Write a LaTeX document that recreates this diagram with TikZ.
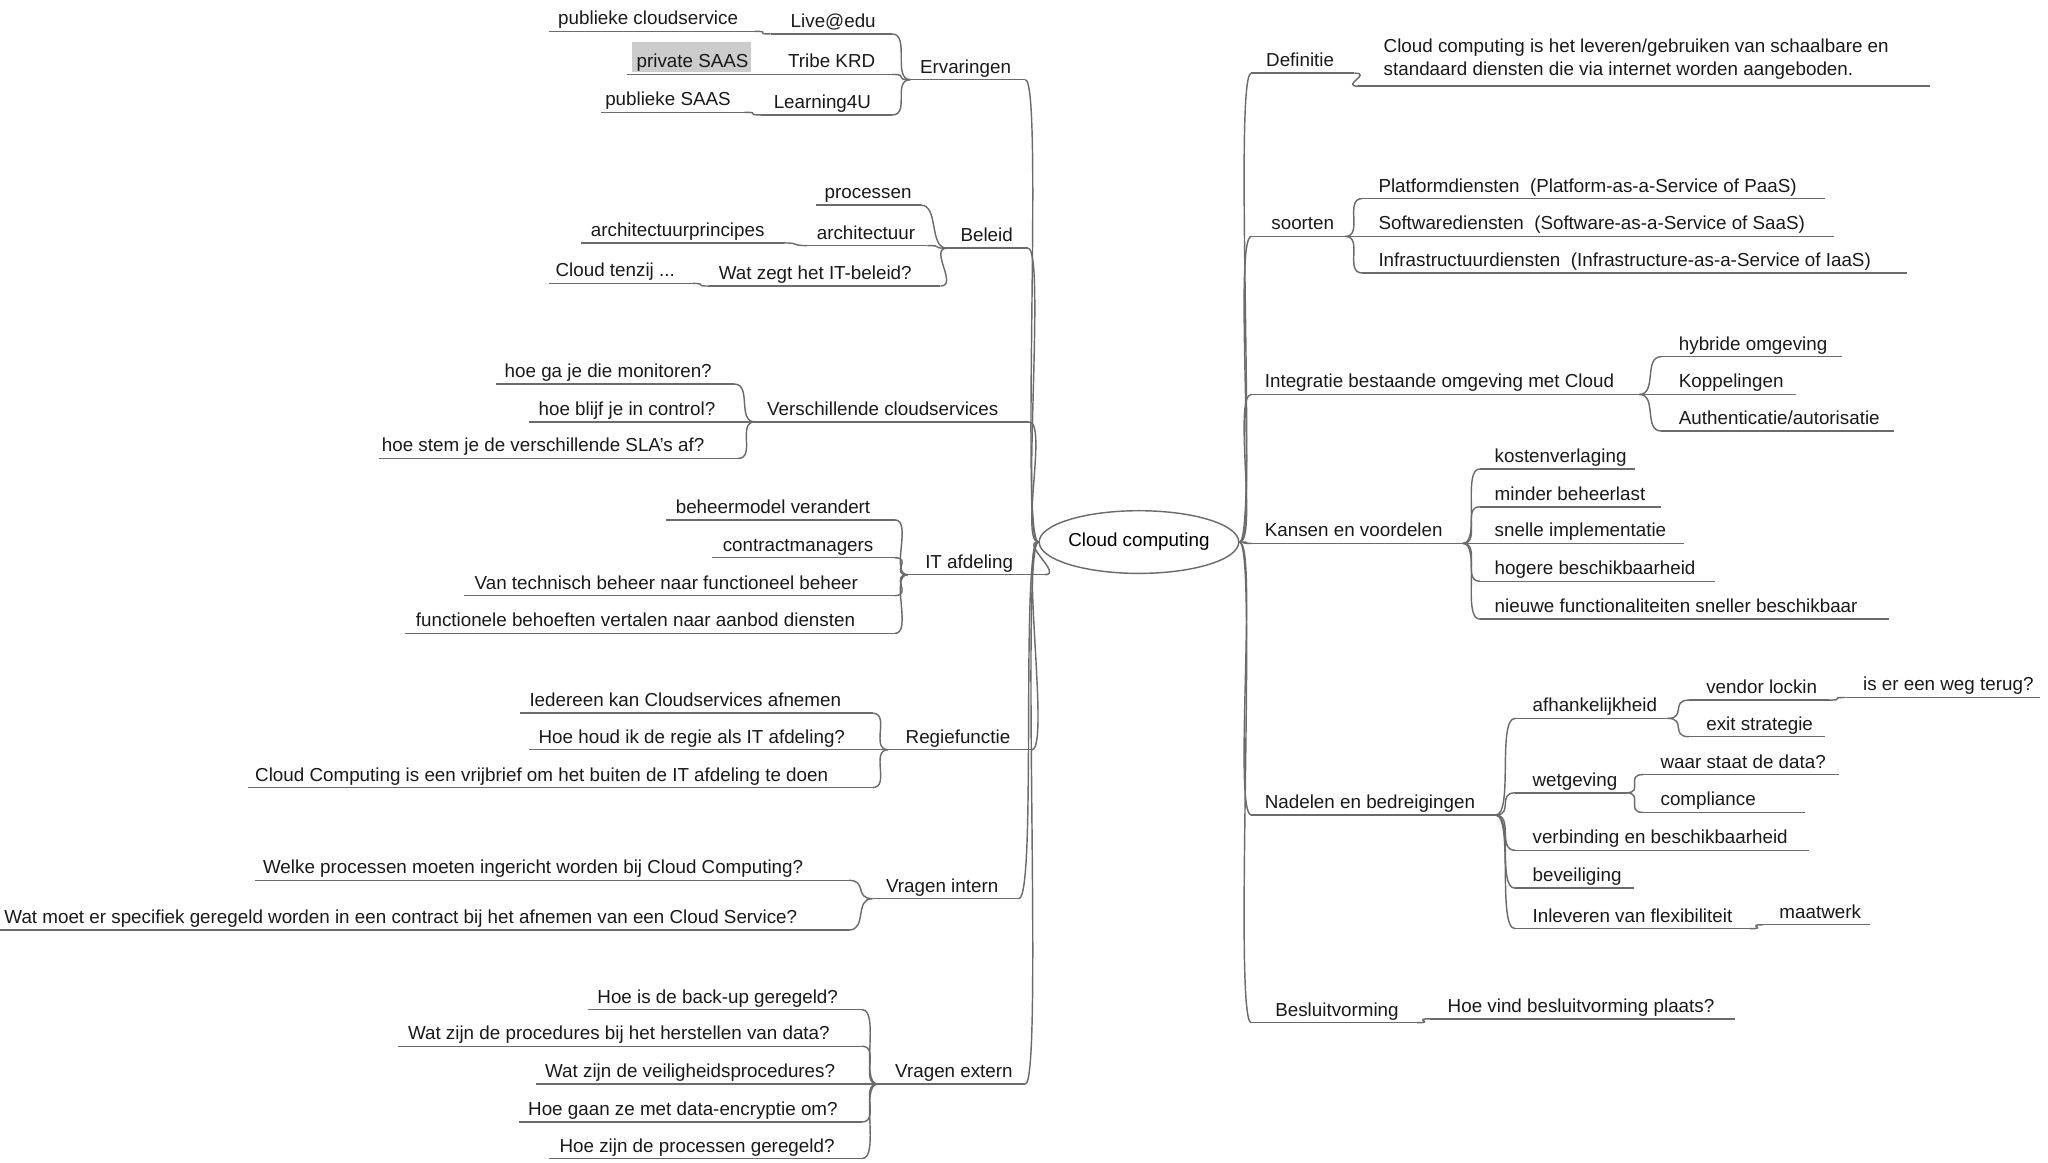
\documentclass[tikz,border=0pt]{standalone}
\usepackage{fontspec}
\setmainfont{Liberation Sans}
\usetikzlibrary{shapes.geometric}
\tikzset{
 lbl/.style={inner sep=0pt,anchor=base west,font=\fontsize{7.2}{8.6}\selectfont,text=black!90},
 ln/.style={draw=black!58,line width=0.55pt},
 conn/.style={ln,out=0,in=180,distance=7pt},
 connL/.style={ln,out=180,in=0,distance=7pt},
}
\newcommand\mm[6]{%
 \coordinate (#1l) at (#2,#4); \coordinate (#1r) at (#3,#4);
 \node[lbl] (#1) at (#5,#4-5) {#6};
 \draw[ln] (#1l)--(#1r);}
\newcommand\cR[2]{\draw[conn] (#1r) to (#2l);}
\newcommand\cL[2]{\draw[connL] (#1l) to (#2r);}
\begin{document}
\begin{tikzpicture}[x=0.5pt,y=-0.5pt]
\useasboundingbox (0,0) rectangle (1568,890);
\node[ellipse,draw=black!58,line width=0.55pt,minimum width=66pt,minimum height=24pt,inner sep=0pt,font=\fontsize{7.2}{8.6}\selectfont] (cc) at (872,415) {Cloud computing};
\coordinate (ccr) at (cc.east); \coordinate (ccl) at (cc.west);
% right side
\mm{def}{958}{1037}{56}{969}{Definitie}
\coordinate (defcl) at (1040,66); \coordinate (defcr) at (1478,66);
\draw[ln] (defcl)--(defcr);
\node[lbl,anchor=south west,align=left] (defc) at (1059,61) {Cloud computing is het leveren/gebruiken van schaalbare en\\standaard diensten die via internet worden aangeboden.};
\mm{soo}{958}{1030}{181}{973}{soorten}
\mm{pla}{1043}{1397}{152}{1055}{Platformdiensten\ \ (Platform-as-a-Service of PaaS)}
\mm{sof}{1043}{1404}{181}{1055}{Softwarediensten\ \ (Software-as-a-Service of SaaS)}
\mm{inf}{1043}{1460}{209}{1055}{Infrastructuurdiensten\ \ (Infrastructure-as-a-Service of IaaS)}
\mm{int}{958}{1255}{302}{968}{Integratie bestaande omgeving met Cloud}
\mm{hyb}{1272}{1410}{273}{1285}{hybride omgeving}
\mm{kop}{1272}{1375}{302}{1285}{Koppelingen}
\mm{aut}{1272}{1450}{330}{1285}{Authenticatie/autorisatie}
\mm{kan}{958}{1120}{416}{968}{Kansen en voordelen}
\mm{ka}{1133}{1252}{359}{1144}{kostenverlaging}
\mm{kb}{1133}{1272}{388}{1144}{minder beheerlast}
\mm{kc}{1133}{1289}{416}{1144}{snelle implementatie}
\mm{kd}{1133}{1313}{445}{1144}{hogere beschikbaarheid}
\mm{ke}{1133}{1446}{474}{1144}{nieuwe functionaliteiten sneller beschikbaar}
\mm{nad}{958}{1145}{624}{968}{Nadelen en bedreigingen}
\mm{afh}{1160}{1277}{550}{1173}{afhankelijkheid}
\mm{wet}{1160}{1245}{607}{1173}{wetgeving}
\mm{ver}{1160}{1385}{651}{1173}{verbinding en beschikbaarheid}
\mm{bev}{1160}{1251}{680}{1173}{beveiliging}
\mm{inl}{1160}{1340}{711}{1173}{Inleveren van flexibiliteit}
\mm{ven}{1293}{1400}{536}{1306}{vendor lockin}
\mm{exi}{1293}{1397}{564}{1306}{exit strategie}
\mm{weg}{1413}{1562}{534}{1426}{is er een weg terug?}
\mm{waa}{1258}{1408}{593}{1271}{waar staat de data?}
\mm{com}{1258}{1382}{622}{1271}{compliance}
\mm{maa}{1350}{1432}{708}{1362}{maatwerk}
\mm{bes}{958}{1085}{783}{976}{Besluitvorming}
\mm{hoe}{1095}{1328}{780}{1108}{Hoe vind besluitvorming plaats?}
\foreach \c in {def,soo,int,kan,nad,bes}{\draw[conn] (ccr) to (\c l);}
\cR{def}{defc}
\cR{soo}{pla}\cR{soo}{sof}\cR{soo}{inf}
\cR{int}{hyb}\cR{int}{kop}\cR{int}{aut}
\cR{kan}{ka}\cR{kan}{kb}\cR{kan}{kc}\cR{kan}{kd}\cR{kan}{ke}
\cR{nad}{afh}\cR{nad}{wet}\cR{nad}{ver}\cR{nad}{bev}\cR{nad}{inl}
\cR{afh}{ven}\cR{afh}{exi}\cR{ven}{weg}\cR{wet}{waa}\cR{wet}{com}\cR{inl}{maa}\cR{bes}{hoe}
% left side
\fill[black!20] (484,32) rectangle (575,55);
\mm{erv}{697}{785}{61}{704}{Ervaringen}
\mm{liv}{590}{683}{26}{605}{Live@edu}
\mm{tri}{590}{683}{57}{603}{Tribe KRD}
\mm{lea}{583}{683}{88}{592}{Learning4U}
\mm{pcs}{420}{578}{24}{427}{publieke cloudservice}
\mm{psa}{480}{578}{57}{487}{private SAAS}
\mm{pss}{460}{570}{86}{463}{publieke SAAS}
\mm{bel}{725}{787}{190}{735}{Beleid}
\mm{pro}{625}{705}{157}{631}{processen}
\mm{arc}{618}{710}{188}{625}{architectuur}
\mm{wat}{543}{720}{219}{550}{Wat zegt het IT-beleid?}
\mm{arp}{445}{600}{186}{452}{architectuurprincipes}
\mm{clt}{420}{530}{217}{425}{Cloud tenzij ...}
\mm{vcs}{578}{788}{323}{587}{Verschillende cloudservices}
\mm{va}{380}{562}{294}{386}{hoe ga je die monitoren?}
\mm{vb}{405}{565}{323}{412}{hoe blijf je in control?}
\mm{vc}{290}{565}{351}{292}{hoe stem je de verschillende SLA's af?}
\mm{ita}{695}{800}{440}{708}{IT afdeling}
\mm{ia}{510}{685}{398}{517}{beheermodel verandert}
\mm{ib}{545}{685}{427}{553}{contractmanagers}
\mm{ic}{355}{685}{456}{363}{Van technisch beheer naar functioneel beheer}
\mm{id}{310}{685}{485}{318}{functionele behoeften vertalen naar aanbod diensten}
\mm{reg}{680}{790}{574}{693}{Regiefunctie}
\mm{ra}{398}{668}{546}{405}{Iedereen kan Cloudservices afnemen}
\mm{rb}{405}{668}{574}{412}{Hoe houd ik de regie als IT afdeling?}
\mm{rc}{190}{668}{603}{195}{Cloud Computing is een vrijbrief om het buiten de IT afdeling te doen}
\mm{vin}{668}{780}{688}{678}{Vragen intern}
\mm{qa}{195}{650}{674}{201}{Welke processen moeten ingericht worden bij Cloud Computing?}
\mm{qb}{0}{650}{712}{3}{Wat moet er specifiek geregeld worden in een contract bij het afnemen van een Cloud Service?}
\mm{vex}{672}{785}{830}{685}{Vragen extern}
\mm{ea}{450}{660}{773}{457}{Hoe is de back-up geregeld?}
\mm{eb}{305}{660}{801}{312}{Wat zijn de procedures bij het herstellen van data?}
\mm{ec}{410}{660}{830}{417}{Wat zijn de veiligheidsprocedures?}
\mm{ed}{397}{660}{859}{404}{Hoe gaan ze met data-encryptie om?}
\mm{ee}{420}{660}{887}{428}{Hoe zijn de processen geregeld?}
\foreach \c in {erv,bel,vcs,ita,reg,vin,vex}{\draw[connL] (ccl) to (\c r);}
\cL{erv}{liv}\cL{erv}{tri}\cL{erv}{lea}\cL{liv}{pcs}\cL{tri}{psa}\cL{lea}{pss}
\cL{bel}{pro}\cL{bel}{arc}\cL{bel}{wat}\cL{arc}{arp}\cL{wat}{clt}
\cL{vcs}{va}\cL{vcs}{vb}\cL{vcs}{vc}
\cL{ita}{ia}\cL{ita}{ib}\cL{ita}{ic}\cL{ita}{id}
\cL{reg}{ra}\cL{reg}{rb}\cL{reg}{rc}
\cL{vin}{qa}\cL{vin}{qb}
\cL{vex}{ea}\cL{vex}{eb}\cL{vex}{ec}\cL{vex}{ed}\cL{vex}{ee}
\end{tikzpicture}
\end{document}
